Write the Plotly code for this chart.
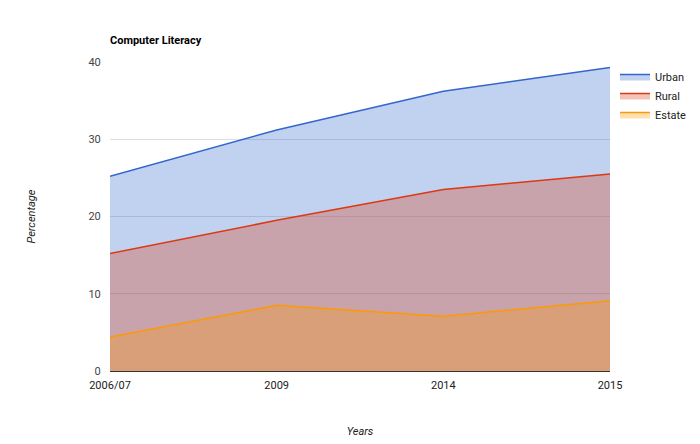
import plotly.graph_objects as go

years = ["2006/07", "2009", "2014", "2015"]
urban = [25.2, 31.2, 36.2, 39.3]
rural = [15.2, 19.5, 23.5, 25.5]
estate = [4.4, 8.5, 7.1, 9.1]

series = [("Urban", urban, "#3366cc"), ("Rural", rural, "#dc3912"), ("Estate", estate, "#ff9900")]
fills = {"#3366cc": "rgba(51,102,204,0.3)", "#dc3912": "rgba(220,57,18,0.3)", "#ff9900": "rgba(255,153,0,0.3)"}

fig = go.Figure()
for name, vals, col in series:
    fig.add_trace(go.Scatter(x=list(range(len(years))), y=vals, name=name, mode="lines",
                             line=dict(color=col, width=1.5), fill="tozeroy", fillcolor=fills[col]))

fig.update_layout(
    width=700, height=444, paper_bgcolor="white", plot_bgcolor="white",
    margin=dict(l=102, r=98, t=54, b=81),
    font=dict(family="Roboto, Arial", size=11, color="#222"),
    title=dict(text="<b>Computer Literacy</b>", x=102/700, xanchor="left", y=1-32/444, yanchor="middle",
               font=dict(size=11, color="#000")),
    legend=dict(x=1.01, y=1, xanchor="left", yanchor="top", font=dict(size=11, color="#222"),
                bgcolor="rgba(0,0,0,0)"),
    xaxis=dict(tickvals=list(range(len(years))), ticktext=years, range=[0, 3], showgrid=False,
               zeroline=False, showline=False, ticks="outside", ticklen=4, tickcolor="rgba(0,0,0,0)",
               tickfont=dict(color="#222"),
               title=dict(text="<i>Years</i>", font=dict(color="#222", size=11), standoff=36)),
    yaxis=dict(range=[0, 40], tickvals=[0, 10, 20, 30, 40], gridcolor="#dddddd", zeroline=True,
               zerolinecolor="#333", zerolinewidth=1, tickfont=dict(color="#444"),
               ticks="outside", ticklen=6, tickcolor="rgba(0,0,0,0)",
               title=dict(text="<i>Percentage</i>", font=dict(color="#222", size=11), standoff=50)),
)
fig.write_html("out.html")
